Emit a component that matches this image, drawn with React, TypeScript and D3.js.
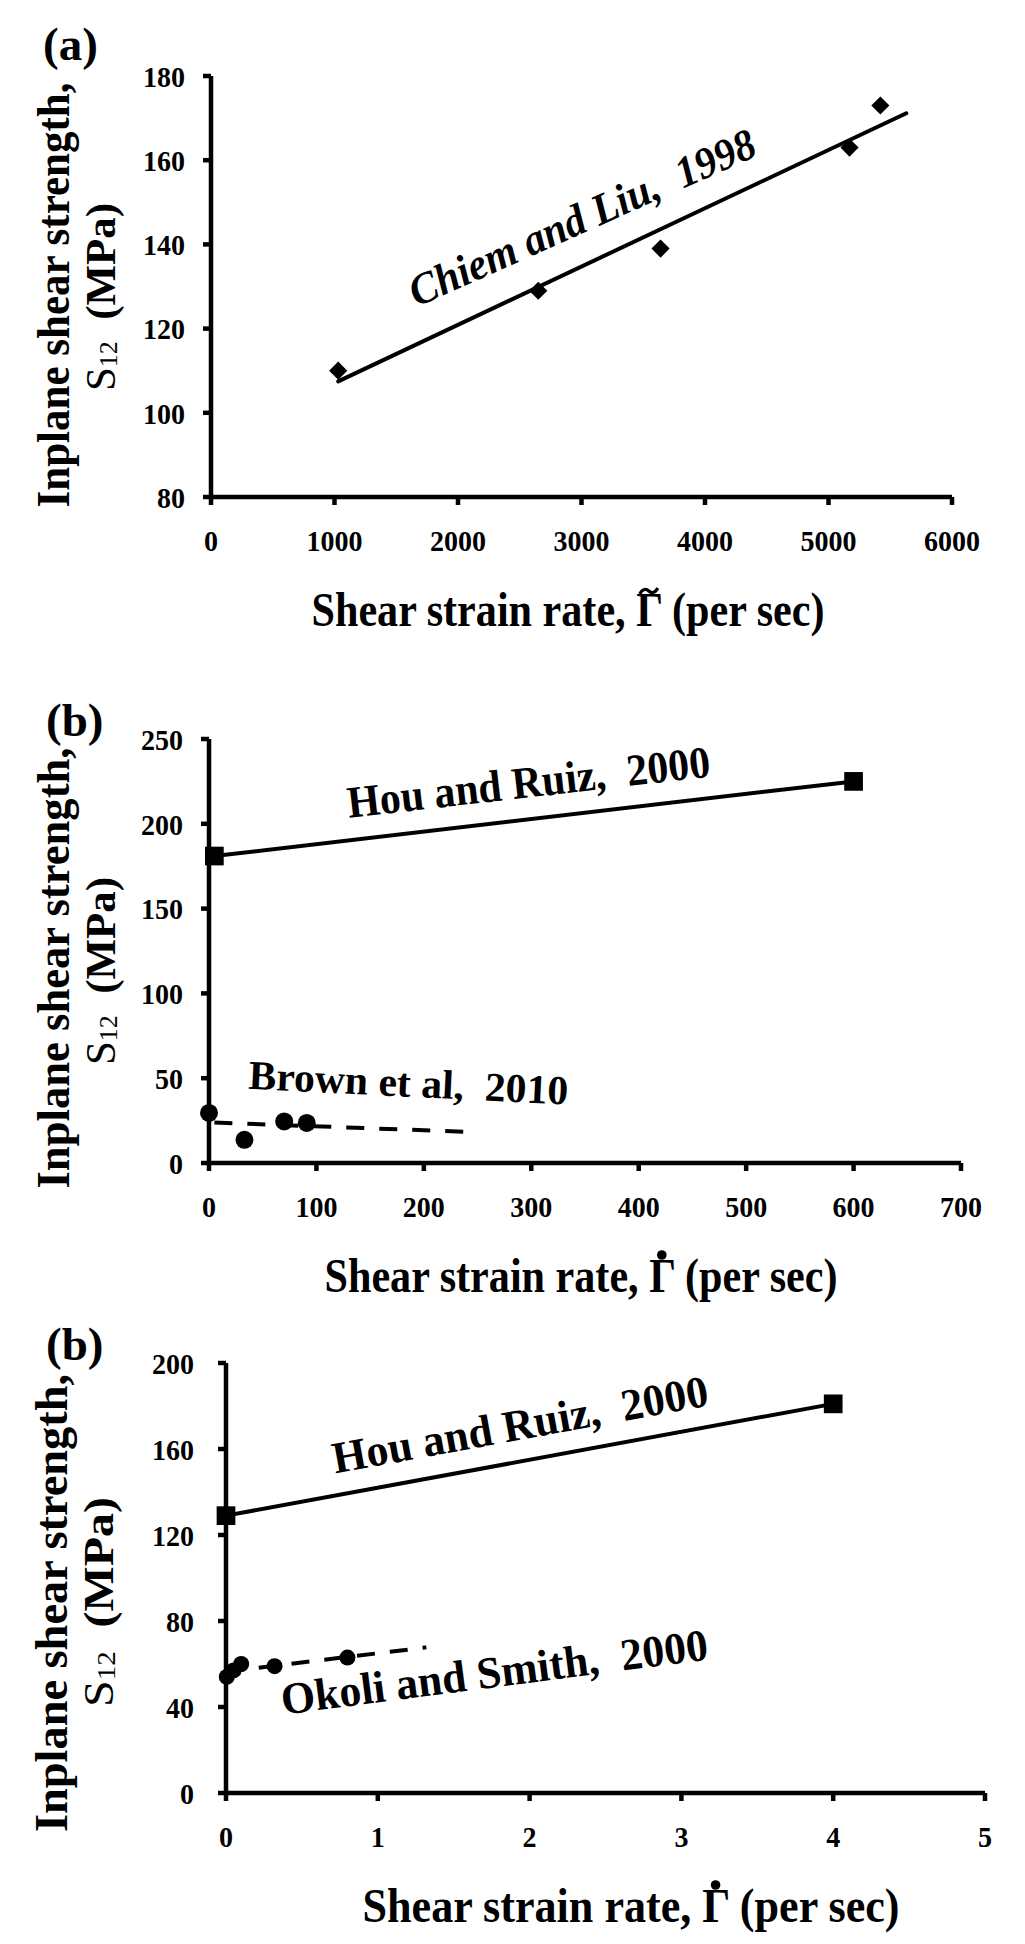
import { useEffect, useRef } from "react";
import * as d3 from "d3";

const WIDTH = 1025;
const HEIGHT = 1944;
const SERIF = "'Liberation Serif', 'Times New Roman', Times, serif";

// (a) Chiem and Liu, 1998
const chiemRate = [1030, 2650, 3640, 5170, 5420];
const chiemStrength = [110, 129, 139, 163, 173];
const chiemFitSpan = [1030, 5630];

// (b) Hou and Ruiz, 2000 / Brown et al, 2010
const houRateB = [5, 600];
const houStrengthB = [181, 225];
const brownRate = [0, 33, 70, 91];
const brownStrength = [29.5, 13.7, 24.5, 23.6];
const brownFitSpan = [5, 250];

// (c) Hou and Ruiz, 2000 / Okoli and Smith, 2000
const houRateC = [0, 4];
const houStrengthC = [129, 181];
const okoliRate = [0.005, 0.05, 0.1, 0.32, 0.8];
const okoliStrength = [54, 57, 60, 59, 63];
const okoliFitSpan = [0, 1.32];

const xTicksA = [0, 1000, 2000, 3000, 4000, 5000, 6000];
const yTicksA = [80, 100, 120, 140, 160, 180];
const xTicksB = [0, 100, 200, 300, 400, 500, 600, 700];
const yTicksB = [0, 50, 100, 150, 200, 250];
const xTicksC = [0, 1, 2, 3, 4, 5];
const yTicksC = [0, 40, 80, 120, 160, 200];

const Y_TITLE = "Inplane shear strength,";
const X_TITLE = "Shear strain rate, Γ (per sec)";

/** Least-squares line through the points, returned as a function of x. */
function leastSquares(xs: number[], ys: number[]) {
  const mx = d3.mean(xs) as number;
  const my = d3.mean(ys) as number;
  let sxy = 0;
  let sxx = 0;
  xs.forEach((x, i) => {
    sxy += (x - mx) * (ys[i] - my);
    sxx += (x - mx) * (x - mx);
  });
  const slope = sxy / sxx;
  return (x: number) => my + slope * (x - mx);
}

const PANELS = [
  {
    tag: "(a)",
    tagX: 43,
    tagY: 60,
    xDomain: [0, 6000],
    yDomain: [80, 180],
    xRange: [211, 952],
    yRange: [497, 76],
    xTicks: xTicksA,
    yTicks: yTicksA,
    tickGap: 26,
    xTitleX: 568,
    xTitleLen: 513,
    accent: "tilde",
    yTitleY: 295,
    yTitleLen: 425,
    yTitle2Y: 297,
    yTitle2Len: 188,
    yTitleX: [69, 115],
    solid: [],
    fits: [{ xs: chiemRate, ys: chiemStrength, span: chiemFitSpan, dashed: false }],
    markers: [{ xs: chiemRate, ys: chiemStrength, shape: "diamond" }],
    labels: [
      { text: "Chiem and Liu,  1998", x: 3053, y: 143.2, angle: -24, size: 44, italic: true, len: 375 },
    ],
  },
  {
    tag: "(b)",
    tagX: 46,
    tagY: 736,
    xDomain: [0, 700],
    yDomain: [0, 250],
    xRange: [209, 961],
    yRange: [1163, 739],
    xTicks: xTicksB,
    yTicks: yTicksB,
    tickGap: 26,
    xTitleX: 581,
    xTitleLen: 513,
    accent: "dot",
    yTitleY: 968,
    yTitleLen: 441,
    yTitle2Y: 971,
    yTitle2Len: 188,
    yTitleX: [69, 115],
    solid: [{ xs: houRateB, ys: houStrengthB }],
    fits: [{ xs: brownRate, ys: brownStrength, span: brownFitSpan, dashed: true }],
    markers: [
      { xs: houRateB, ys: houStrengthB, shape: "square" },
      { xs: brownRate, ys: brownStrength, shape: "circle" },
    ],
    labels: [
      { text: "Hou and Ruiz,  2000", x: 299, y: 215.7, angle: -6.5, size: 45, italic: false, len: 365 },
      { text: "Brown et al,  2010", x: 185, y: 39.1, angle: 2.8, size: 41, italic: false, len: 320 },
    ],
  },
  {
    tag: "(b)",
    tagX: 46,
    tagY: 1360,
    xDomain: [0, 5],
    yDomain: [0, 200],
    xRange: [226, 985],
    yRange: [1793, 1363],
    xTicks: xTicksC,
    yTicks: yTicksC,
    tickGap: 32,
    xTitleX: 631,
    xTitleLen: 537,
    accent: "dot",
    yTitleY: 1603,
    yTitleLen: 458,
    yTitle2Y: 1602,
    yTitle2Len: 210,
    yTitleX: [67, 113],
    solid: [{ xs: houRateC, ys: houStrengthC }],
    fits: [{ xs: okoliRate, ys: okoliStrength, span: okoliFitSpan, dashed: true }],
    markers: [
      { xs: houRateC, ys: houStrengthC, shape: "square" },
      { xs: okoliRate, ys: okoliStrength, shape: "circleSmall" },
    ],
    labels: [
      { text: "Hou and Ruiz,  2000", x: 1.955, y: 164.5, angle: -10.3, size: 45, italic: false, len: 381 },
      { text: "Okoli and Smith,  2000", x: 1.78, y: 49.3, angle: -7.4, size: 45, italic: false, len: 430 },
    ],
  },
];

function drawPanel(svg: d3.Selection<SVGSVGElement, unknown, null, undefined>, p: (typeof PANELS)[number]) {
  const x = d3.scaleLinear().domain(p.xDomain).range(p.xRange);
  const y = d3.scaleLinear().domain(p.yDomain).range(p.yRange);
  const g = svg.append("g").attr("font-family", SERIF).attr("fill", "#000");
  const x0 = p.xRange[0];
  const yBase = p.yRange[0];

  // panel tag
  g.append("text")
    .attr("x", p.tagX)
    .attr("y", p.tagY)
    .attr("font-size", 47)
    .attr("font-weight", "bold")
    .text(p.tag);

  // axes
  const axisG = g.append("g").attr("stroke", "#000").attr("stroke-width", 4.5);
  axisG.append("line").attr("x1", x0).attr("x2", x0).attr("y1", p.yRange[1]).attr("y2", yBase);
  axisG.append("line").attr("x1", x0).attr("x2", p.xRange[1]).attr("y1", yBase).attr("y2", yBase);
  axisG
    .selectAll(".ytick")
    .data(p.yTicks)
    .join("line")
    .attr("x1", x0 - 8)
    .attr("x2", x0)
    .attr("y1", (d) => y(d))
    .attr("y2", (d) => y(d));
  axisG
    .selectAll(".xtick")
    .data(p.xTicks)
    .join("line")
    .attr("x1", (d) => x(d))
    .attr("x2", (d) => x(d))
    .attr("y1", yBase)
    .attr("y2", yBase + 8);

  g.append("g")
    .selectAll("text")
    .data(p.yTicks)
    .join("text")
    .attr("x", x0 - p.tickGap)
    .attr("y", (d) => y(d))
    .attr("dy", "0.36em")
    .attr("text-anchor", "end")
    .attr("font-size", 30)
    .attr("font-weight", "bold")
    .attr("textLength", (d) => String(d).length * 14)
    .attr("lengthAdjust", "spacingAndGlyphs")
    .text((d) => d);

  g.append("g")
    .selectAll("text")
    .data(p.xTicks)
    .join("text")
    .attr("x", (d) => x(d))
    .attr("y", yBase + 54)
    .attr("text-anchor", "middle")
    .attr("font-size", 30)
    .attr("font-weight", "bold")
    .attr("textLength", (d) => String(d).length * 14)
    .attr("lengthAdjust", "spacingAndGlyphs")
    .text((d) => d);

  // x title, with the accent over Gamma
  const base = yBase + 129;
  const xt = g
    .append("text")
    .attr("x", p.xTitleX)
    .attr("y", base)
    .attr("text-anchor", "middle")
    .attr("font-size", 48)
    .attr("font-weight", "bold")
    .attr("textLength", p.xTitleLen)
    .attr("lengthAdjust", "spacingAndGlyphs")
    .style("white-space", "pre")
    .text(X_TITLE);
  const gi = X_TITLE.indexOf("Γ");
  const box = (xt.node() as SVGTextElement).getExtentOfChar(gi);
  const gcx = box.x + box.width / 2;
  if (p.accent === "tilde") {
    g.append("path")
      .attr(
        "d",
        `M${gcx - 9},${base - 32} C${gcx - 6},${base - 38} ${gcx - 2},${base - 37} ${gcx},${base - 35} S${gcx + 6},${base - 32} ${gcx + 9},${base - 38}`
      )
      .attr("fill", "none")
      .attr("stroke", "#000")
      .attr("stroke-width", 3.2);
  } else {
    g.append("circle").attr("cx", gcx).attr("cy", base - 37).attr("r", 4.8);
  }

  // y title, two lines
  g.append("text")
    .attr("transform", `translate(${p.yTitleX[0]},${p.yTitleY}) rotate(-90)`)
    .attr("text-anchor", "middle")
    .attr("font-size", 46)
    .attr("font-weight", "bold")
    .attr("textLength", p.yTitleLen)
    .attr("lengthAdjust", "spacingAndGlyphs")
    .text(Y_TITLE);
  const y2 = g
    .append("text")
    .attr("transform", `translate(${p.yTitleX[1]},${p.yTitle2Y}) rotate(-90)`)
    .attr("text-anchor", "middle")
    .attr("font-size", 43)
    .attr("textLength", p.yTitle2Len)
    .attr("lengthAdjust", "spacingAndGlyphs")
    .style("white-space", "pre");
  y2.append("tspan").text("S");
  y2.append("tspan").attr("font-size", 26).attr("dy", 2).text("12");
  y2.append("tspan").attr("dy", -2).attr("font-weight", "bold").text("  (MPa)");

  // series lines
  const line = d3
    .line<[number, number]>()
    .x((d) => x(d[0]))
    .y((d) => y(d[1]));
  p.solid.forEach((s) => {
    g.append("path")
      .attr("d", line(s.xs.map((v, i) => [v, s.ys[i]] as [number, number])))
      .attr("fill", "none")
      .attr("stroke", "#000")
      .attr("stroke-width", 4);
  });
  p.fits.forEach((f) => {
    const fn = leastSquares(f.xs, f.ys);
    g.append("path")
      .attr("d", line(f.span.map((v) => [v, fn(v)] as [number, number])))
      .attr("fill", "none")
      .attr("stroke", "#000")
      .attr("stroke-width", 4)
      .attr("stroke-linecap", f.dashed ? "butt" : "round")
      .attr("stroke-dasharray", f.dashed ? "18 15" : null);
  });

  // markers
  p.markers.forEach((m) => {
    const pts = m.xs.map((v, i) => [v, m.ys[i]]);
    const layer = g.append("g");
    if (m.shape === "circle" || m.shape === "circleSmall") {
      layer
        .selectAll("circle")
        .data(pts)
        .join("circle")
        .attr("cx", (d) => x(d[0]))
        .attr("cy", (d) => y(d[1]))
        .attr("r", m.shape === "circle" ? 9 : 8);
    } else {
      const sym = d3
        .symbol()
        .type(d3.symbolSquare)
        .size(m.shape === "diamond" ? 165 : 350);
      layer
        .selectAll("path")
        .data(pts)
        .join("path")
        .attr("d", sym())
        .attr(
          "transform",
          (d) => `translate(${x(d[0])},${y(d[1])})${m.shape === "diamond" ? " rotate(45)" : ""}`
        );
    }
  });

  // series labels
  p.labels.forEach((l) => {
    g.append("text")
      .attr("transform", `translate(${x(l.x)},${y(l.y)}) rotate(${l.angle})`)
      .attr("text-anchor", "middle")
      .attr("font-size", l.size)
      .attr("font-weight", "bold")
      .attr("font-style", l.italic ? "italic" : "normal")
      .attr("textLength", l.len)
      .attr("lengthAdjust", "spacingAndGlyphs")
      .style("white-space", "pre")
      .text(l.text);
  });
}

export default function App() {
  const svgRef = useRef<SVGSVGElement | null>(null);

  useEffect(() => {
    const svg = d3.select(svgRef.current as SVGSVGElement);
    svg.selectAll("*").remove();
    svg.append("rect").attr("width", WIDTH).attr("height", HEIGHT).attr("fill", "#fff");
    PANELS.forEach((p) => drawPanel(svg, p));
  }, []);

  return (
    <svg
      ref={svgRef}
      width={WIDTH}
      height={HEIGHT}
      viewBox={`0 0 ${WIDTH} ${HEIGHT}`}
      style={{ position: "absolute", left: 0, top: 0, display: "block" }}
    />
  );
}
